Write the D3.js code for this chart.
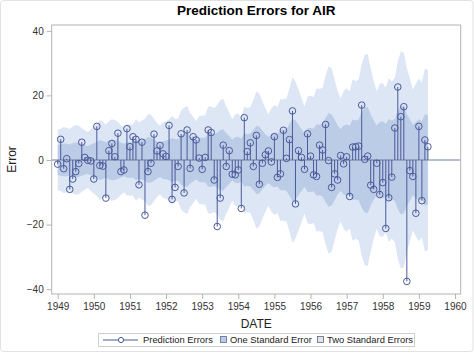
<!DOCTYPE html>
<html>
<head>
<meta charset="utf-8">
<script src="https://cdn.jsdelivr.net/npm/d3@7"></script>
<style>
  html, body { margin: 0; padding: 0; background: #fff; }
  svg { display: block; font-family: "Liberation Sans", Arial, sans-serif; }
</style>
</head>
<body>
<svg id="chart" width="474" height="355"></svg>
<script>
// ---- data (monthly, starting Jan 1949) ----
const startYear = 1949;
const predictionErrors = [
  -1.3, 6.4, -2.7, 0.4, -9.1, -5.9, -3.6, -1.1, 5.5, 0.8, -0.1, -0.3,
  -5.9, 10.4, -1.7, -1.9, -11.8, 2.9, 5.1, 1.0, 8.3, -3.6, -3.1, 9.7,
  4.1, 7.2, 6.4, -7.7, 5.5, -17.1, -3.6, -1.0, 8.0, 2.8, 4.5, 1.9,
  1.1, 10.7, -12.2, -8.5, -2.0, 8.1, -10.2, 9.3, -2.6, 7.2, 6.2, 0.6,
  -2.9, 0.8, 9.3, 8.5, -6.2, -20.6, -11.8, 4.6, -2.0, 2.9, -4.4, -4.6,
  -3.1, -15.0, 13.1, 2.6, 5.3, -2.0, 7.6, -7.5, -1.0, 1.6, 2.8, -0.6,
  7.2, -5.4, -4.3, 9.2, 0.5, 6.3, 15.2, -13.6, 2.9, 0.8, -2.9, 8.1,
  1.2, -4.6, -5.1, 4.6, 3.1, 11.0, -0.2, -8.5, -4.3, -6.2, 1.4, -1.2,
  1.0, -11.3, 4.0, 4.1, 4.3, 17.0, 0.2, 1.2, -7.8, -9.1, -1.0, -10.7,
  -7.0, -21.2, -11.7, -5.3, 9.9, 22.6, 13.4, 16.5, -37.6, -3.3, -5.1, -16.5,
  10.4, -12.6, 6.2, 4.1
];
const standardError = [
  4.7, 4.8, 5.1, 5.0, 4.8, 5.2, 5.4, 5.3, 4.9, 4.6, 4.3, 4.8,
  5.2, 5.6, 6.2, 5.9, 5.5, 6.0, 6.3, 6.2, 5.9, 5.4, 5.0, 5.5,
  5.5, 5.5, 6.3, 5.8, 6.1, 6.4, 7.1, 7.0, 6.4, 5.7, 5.3, 5.9,
  6.0, 6.3, 6.8, 6.4, 6.4, 7.7, 8.1, 8.4, 7.3, 6.7, 6.0, 6.8,
  6.9, 6.9, 8.3, 8.3, 8.0, 8.5, 9.3, 9.5, 8.3, 7.4, 6.3, 7.1,
  7.2, 6.6, 8.3, 8.0, 8.2, 9.3, 10.6, 10.3, 9.1, 8.0, 7.1, 8.0,
  8.5, 8.2, 9.4, 9.4, 9.5, 11.1, 12.8, 12.2, 10.9, 9.6, 8.3, 9.8,
  10.0, 9.7, 11.1, 11.0, 11.2, 13.1, 14.5, 14.2, 12.5, 10.7, 9.5, 10.7,
  11.1, 10.6, 12.5, 12.2, 12.5, 14.8, 16.3, 16.4, 14.2, 12.2, 10.7, 11.8,
  11.9, 11.2, 12.7, 12.2, 12.7, 15.3, 16.8, 16.6, 14.2, 12.6, 10.9, 11.8,
  12.6, 12.0, 14.2, 13.9
];
const yTicks = [-40, -20, 0, 20, 40];
const xTicks = [1949, 1950, 1951, 1952, 1953, 1954, 1955, 1956, 1957, 1958, 1959, 1960];
const legendLabels = ["Prediction Errors", "One Standard Error", "Two Standard Errors"];

// ---- build records ----
const records = predictionErrors.map((e, i) => ({
  t: startYear + i / 12,
  err: e,
  se: standardError[i]
}));

// ---- layout ----
const svg = d3.select("#chart");
const W = 474, H = 355;
const plot = { left: 51.7, right: 460.7, top: 25, bottom: 294 };

const x = d3.scaleLinear().domain([1948.834, 1960.158]).range([plot.left, plot.right]);
const y = d3.scaleLinear().domain([-41.5, 41.8]).range([plot.bottom, plot.top]);

const cLight = "#dde6f4";
const cDark = "#bbcce7";
const cMark = "#4a5a9a";
const fontFam = "Liberation Sans, Arial, sans-serif";

// outer border
svg.append("rect").attr("x", 0.5).attr("y", 0.5).attr("width", W - 1.5).attr("height", 351)
  .attr("rx", 3).attr("fill", "none").attr("stroke", "#e2e2e2");

// title
svg.append("text").attr("x", (plot.left + plot.right) / 2).attr("y", 15)
  .attr("text-anchor", "middle").attr("font-size", 13.5).attr("font-weight", "bold")
  .attr("fill", "#000").text("Prediction Errors for AIR");

// clip
svg.append("clipPath").attr("id", "clip").append("rect")
  .attr("x", plot.left).attr("y", plot.top)
  .attr("width", plot.right - plot.left).attr("height", plot.bottom - plot.top);

const g = svg.append("g").attr("clip-path", "url(#clip)");

// bands
const band = k => d3.area()
  .x(d => x(d.t))
  .y0(d => y(-k * d.se))
  .y1(d => y(k * d.se));

g.append("path").datum(records).attr("d", band(2)).attr("fill", cLight);
g.append("path").datum(records).attr("d", band(1)).attr("fill", cDark);

// zero reference line
g.append("line").attr("x1", plot.left).attr("x2", plot.right)
  .attr("y1", y(0)).attr("y2", y(0)).attr("stroke", "#6f7c9c").attr("stroke-width", 1.2);

// stems
g.selectAll("line.stem").data(records).enter().append("line").attr("class", "stem")
  .attr("x1", d => x(d.t)).attr("x2", d => x(d.t))
  .attr("y1", y(0)).attr("y2", d => y(d.err))
  .attr("stroke", cMark).attr("stroke-width", 1);

// circles
g.selectAll("circle.pt").data(records).enter().append("circle").attr("class", "pt")
  .attr("cx", d => x(d.t)).attr("cy", d => y(d.err)).attr("r", 3.3)
  .attr("fill", "none").attr("stroke", cMark).attr("stroke-width", 1);

// frame
svg.append("rect").attr("x", plot.left).attr("y", plot.top)
  .attr("width", plot.right - plot.left).attr("height", plot.bottom - plot.top)
  .attr("fill", "none").attr("stroke", "#b4b4b4").attr("stroke-width", 1);

// y axis
const yAxis = d3.axisLeft(y).tickValues(yTicks).tickSize(5).tickPadding(3).tickFormat(d3.format("d"));
const ya = svg.append("g").attr("transform", `translate(${plot.left},0)`).call(yAxis);
ya.select(".domain").remove();
ya.selectAll("line").attr("stroke", "#b4b4b4");
ya.selectAll("text").attr("font-size", 10).attr("fill", "#333").attr("font-family", fontFam);

// x axis
const xAxis = d3.axisBottom(x).tickValues(xTicks).tickSize(5).tickPadding(4).tickFormat(d3.format("d"));
const xa = svg.append("g").attr("transform", `translate(0,${plot.bottom})`).call(xAxis);
xa.select(".domain").remove();
xa.selectAll("line").attr("stroke", "#b4b4b4");
xa.selectAll("text").attr("font-size", 10).attr("fill", "#333").attr("font-family", fontFam);

// axis labels
svg.append("text").attr("x", (plot.left + plot.right) / 2).attr("y", 328)
  .attr("text-anchor", "middle").attr("font-size", 12).attr("fill", "#222").text("DATE");
svg.append("text").attr("transform", `translate(16,${(plot.top + plot.bottom) / 2}) rotate(-90)`)
  .attr("text-anchor", "middle").attr("font-size", 12).attr("fill", "#222").text("Error");

// legend
const lg = svg.append("g");
lg.append("rect").attr("x", 98.5).attr("y", 333.5).attr("width", 316).attr("height", 13)
  .attr("fill", "#fff").attr("stroke", "#cfcfcf");
const ly = 340;
const lfs = 9.4;
lg.append("line").attr("x1", 103).attr("x2", 138).attr("y1", ly).attr("y2", ly).attr("stroke", cMark);
lg.append("circle").attr("cx", 121).attr("cy", ly).attr("r", 2.6).attr("fill", "#fff").attr("stroke", cMark);
lg.append("text").attr("x", 143).attr("y", ly + 3.4).attr("font-size", lfs).attr("fill", "#222").text(legendLabels[0]);
lg.append("rect").attr("x", 220.5).attr("y", ly - 3.5).attr("width", 6).attr("height", 6)
  .attr("fill", cDark).attr("stroke", "#5a6a9a").attr("stroke-width", 0.8);
lg.append("text").attr("x", 230).attr("y", ly + 3.4).attr("font-size", lfs).attr("fill", "#222").text(legendLabels[1]);
lg.append("rect").attr("x", 317.5).attr("y", ly - 3.5).attr("width", 6).attr("height", 6)
  .attr("fill", cLight).attr("stroke", "#666").attr("stroke-width", 0.8);
lg.append("text").attr("x", 327).attr("y", ly + 3.4).attr("font-size", lfs).attr("fill", "#222").text(legendLabels[2]);
</script>
</body>
</html>
